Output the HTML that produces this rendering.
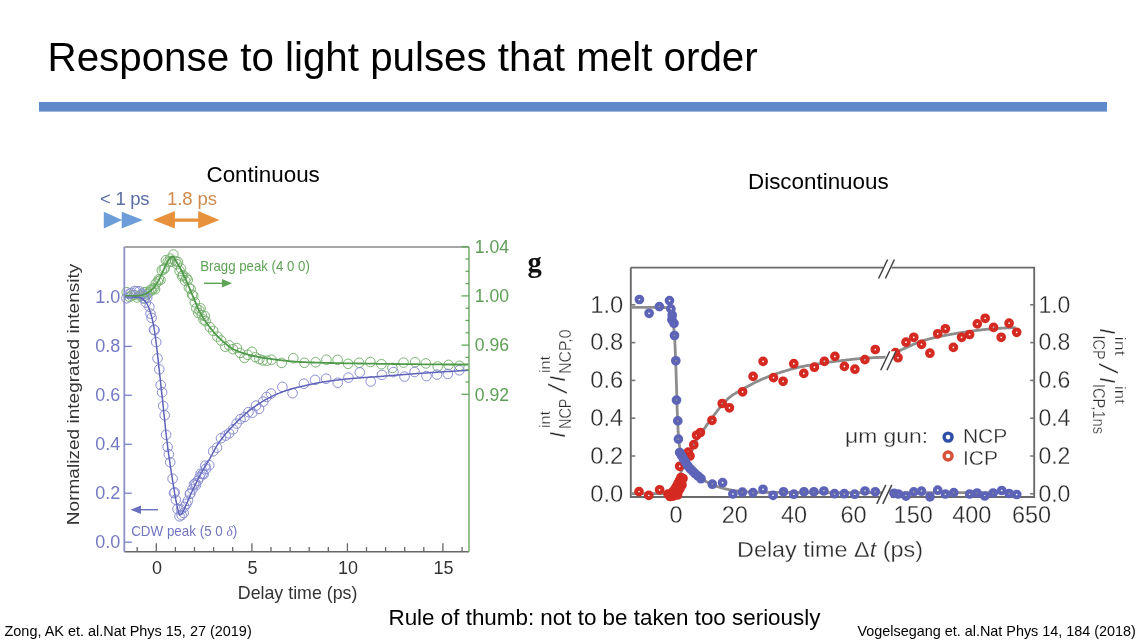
<!DOCTYPE html>
<html><head><meta charset="utf-8"><title>Response to light pulses that melt order</title>
<style>html,body{margin:0;padding:0;background:#fff;}body{width:1138px;height:640px;position:relative;overflow:hidden;}</style>
</head><body>
<svg width="1138" height="640" viewBox="0 0 1138 640" style="position:absolute;left:0;top:0">
<rect x="39" y="102" width="1068" height="9.6" fill="#5e8acb"/>
<text x="47.6" y="71.4" font-family="'Liberation Sans', Arial, sans-serif" font-size="40.3" fill="#000">Response to light pulses that melt order</text>
<text x="206.5" y="182.3" font-family="'Liberation Sans', Arial, sans-serif" font-size="22.4" fill="#000">Continuous</text>
<text x="748" y="189" font-family="'Liberation Sans', Arial, sans-serif" font-size="22.4" fill="#000">Discontinuous</text>
<text x="100" y="204.6" font-family="'Liberation Sans', Arial, sans-serif" font-size="18.5" fill="#5a6ea3" textLength="49.5" lengthAdjust="spacing">&lt; 1 ps</text>
<text x="167" y="204.6" font-family="'Liberation Sans', Arial, sans-serif" font-size="18.5" fill="#cf8a4c" textLength="50" lengthAdjust="spacing">1.8 ps</text>
<path d="M103.8 211.7 L122.2 220.1 L103.8 228.6 Z M121.7 211.7 L142.9 220.1 L121.7 228.6 Z" fill="#6d9dd8"/>
<path d="M153 220.1 L174.9 211 L174.9 218.5 L198.2 218.5 L198.2 211 L219.4 220.1 L198.2 228.6 L198.2 221.8 L174.9 221.8 L174.9 228.6 Z" fill="#e8913c"/>
<g fill="none" stroke="#7bb374" stroke-width="1">
<circle cx="126.7" cy="292.2" r="4.8"/>
<circle cx="129.4" cy="296.9" r="4.8"/>
<circle cx="131.4" cy="295.8" r="4.8"/>
<circle cx="134.1" cy="295" r="4.8"/>
<circle cx="137.1" cy="297.5" r="4.8"/>
<circle cx="139.6" cy="295.6" r="4.8"/>
<circle cx="141.2" cy="295.4" r="4.8"/>
<circle cx="143.7" cy="298.5" r="4.8"/>
<circle cx="144.3" cy="292.1" r="4.8"/>
<circle cx="146.2" cy="292.2" r="4.8"/>
<circle cx="147.2" cy="294.3" r="4.8"/>
<circle cx="149.1" cy="292.2" r="4.8"/>
<circle cx="150.7" cy="289.6" r="4.8"/>
<circle cx="151.7" cy="290.4" r="4.8"/>
<circle cx="153.6" cy="288.2" r="4.8"/>
<circle cx="155" cy="289.2" r="4.8"/>
<circle cx="155.8" cy="283.6" r="4.8"/>
<circle cx="157.8" cy="281.5" r="4.8"/>
<circle cx="158.9" cy="279.3" r="4.8"/>
<circle cx="160.5" cy="280" r="4.8"/>
<circle cx="161.8" cy="270.2" r="4.8"/>
<circle cx="163.7" cy="269.4" r="4.8"/>
<circle cx="164.8" cy="268" r="4.8"/>
<circle cx="165.9" cy="260.2" r="4.8"/>
<circle cx="167.8" cy="261.5" r="4.8"/>
<circle cx="169.5" cy="262" r="4.8"/>
<circle cx="170.4" cy="258.6" r="4.8"/>
<circle cx="171.7" cy="261.6" r="4.8"/>
<circle cx="173.4" cy="254.5" r="4.8"/>
<circle cx="175.4" cy="261.2" r="4.8"/>
<circle cx="176.9" cy="264.2" r="4.8"/>
<circle cx="178" cy="262" r="4.8"/>
<circle cx="179.7" cy="271" r="4.8"/>
<circle cx="181.1" cy="268.6" r="4.8"/>
<circle cx="182" cy="276.1" r="4.8"/>
<circle cx="183.1" cy="275.2" r="4.8"/>
<circle cx="185.1" cy="280.8" r="4.8"/>
<circle cx="186.5" cy="277.9" r="4.8"/>
<circle cx="187.7" cy="280" r="4.8"/>
<circle cx="188.9" cy="287.7" r="4.8"/>
<circle cx="190.6" cy="288.9" r="4.8"/>
<circle cx="192.1" cy="294.7" r="4.8"/>
<circle cx="193.3" cy="295.8" r="4.8"/>
<circle cx="194.8" cy="302.3" r="4.8"/>
<circle cx="196.4" cy="308.3" r="4.8"/>
<circle cx="198.3" cy="312.9" r="4.8"/>
<circle cx="199.4" cy="310.4" r="4.8"/>
<circle cx="200.5" cy="308.3" r="4.8"/>
<circle cx="201.9" cy="315.2" r="4.8"/>
<circle cx="203.5" cy="319.6" r="4.8"/>
<circle cx="204.7" cy="315.9" r="4.8"/>
<circle cx="205.6" cy="321.1" r="4.8"/>
<circle cx="209.8" cy="327.1" r="4.8"/>
<circle cx="213.2" cy="330.9" r="4.8"/>
<circle cx="217.4" cy="336.6" r="4.8"/>
<circle cx="221.1" cy="340.5" r="4.8"/>
<circle cx="225.3" cy="346.7" r="4.8"/>
<circle cx="229.2" cy="345.4" r="4.8"/>
<circle cx="233" cy="349.2" r="4.8"/>
<circle cx="236.8" cy="348.1" r="4.8"/>
<circle cx="240.2" cy="353" r="4.8"/>
<circle cx="244.4" cy="357.8" r="4.8"/>
<circle cx="247.8" cy="354.8" r="4.8"/>
<circle cx="251.9" cy="351.8" r="4.8"/>
<circle cx="255.5" cy="357.2" r="4.8"/>
<circle cx="259.4" cy="359.1" r="4.8"/>
<circle cx="262.8" cy="360.4" r="4.8"/>
<circle cx="266.8" cy="360.7" r="4.8"/>
<circle cx="271.5" cy="359.7" r="4.8"/>
<circle cx="281.7" cy="362.9" r="4.8"/>
<circle cx="293.3" cy="358.2" r="4.8"/>
<circle cx="304.4" cy="362.8" r="4.8"/>
<circle cx="315.6" cy="362.3" r="4.8"/>
<circle cx="326.4" cy="359.7" r="4.8"/>
<circle cx="337.6" cy="359.8" r="4.8"/>
<circle cx="348.1" cy="363.8" r="4.8"/>
<circle cx="359.1" cy="362.8" r="4.8"/>
<circle cx="370.4" cy="362" r="4.8"/>
<circle cx="381.4" cy="364.2" r="4.8"/>
<circle cx="392.4" cy="367.9" r="4.8"/>
<circle cx="403.5" cy="362.6" r="4.8"/>
<circle cx="415.1" cy="362.2" r="4.8"/>
<circle cx="425.8" cy="363.4" r="4.8"/>
<circle cx="437.7" cy="366.5" r="4.8"/>
<circle cx="448.5" cy="364.9" r="4.8"/>
<circle cx="459.4" cy="365.8" r="4.8"/>
</g>
<g fill="none" stroke="#8a8ed2" stroke-width="1">
<circle cx="126.4" cy="298.3" r="4.8"/>
<circle cx="129.6" cy="293.6" r="4.8"/>
<circle cx="131.3" cy="292.9" r="4.8"/>
<circle cx="134.6" cy="291" r="4.8"/>
<circle cx="136.6" cy="291.4" r="4.8"/>
<circle cx="139.2" cy="291.2" r="4.8"/>
<circle cx="141.9" cy="293.8" r="4.8"/>
<circle cx="144.1" cy="295.9" r="4.8"/>
<circle cx="144.6" cy="298.2" r="4.8"/>
<circle cx="145.9" cy="302.5" r="4.8"/>
<circle cx="147.2" cy="297.6" r="4.8"/>
<circle cx="149.4" cy="306.8" r="4.8"/>
<circle cx="150.5" cy="313.7" r="4.8"/>
<circle cx="151.6" cy="317.9" r="4.8"/>
<circle cx="153.9" cy="329.6" r="4.8"/>
<circle cx="154.6" cy="330.2" r="4.8"/>
<circle cx="156.2" cy="342.1" r="4.8"/>
<circle cx="157.5" cy="358.4" r="4.8"/>
<circle cx="159.3" cy="369.3" r="4.8"/>
<circle cx="160.7" cy="385" r="4.8"/>
<circle cx="162.1" cy="392.3" r="4.8"/>
<circle cx="163.2" cy="405.9" r="4.8"/>
<circle cx="164.7" cy="415.3" r="4.8"/>
<circle cx="166.1" cy="434.8" r="4.8"/>
<circle cx="167.6" cy="446.9" r="4.8"/>
<circle cx="168.8" cy="454.3" r="4.8"/>
<circle cx="170.2" cy="462.2" r="4.8"/>
<circle cx="172.6" cy="478.7" r="4.8"/>
<circle cx="174" cy="493.1" r="4.8"/>
<circle cx="174.6" cy="492.3" r="4.8"/>
<circle cx="175.8" cy="499.7" r="4.8"/>
<circle cx="177.5" cy="509.1" r="4.8"/>
<circle cx="179.5" cy="516.3" r="4.8"/>
<circle cx="181" cy="509.4" r="4.8"/>
<circle cx="181.6" cy="515.1" r="4.8"/>
<circle cx="183.6" cy="513" r="4.8"/>
<circle cx="184.4" cy="506.9" r="4.8"/>
<circle cx="186.4" cy="503.8" r="4.8"/>
<circle cx="188" cy="500.7" r="4.8"/>
<circle cx="189.8" cy="493.9" r="4.8"/>
<circle cx="190.4" cy="493.4" r="4.8"/>
<circle cx="192.5" cy="489.3" r="4.8"/>
<circle cx="194" cy="484.3" r="4.8"/>
<circle cx="195.5" cy="483.3" r="4.8"/>
<circle cx="195.9" cy="485.2" r="4.8"/>
<circle cx="197.8" cy="480.6" r="4.8"/>
<circle cx="199.8" cy="477.2" r="4.8"/>
<circle cx="200.6" cy="473.7" r="4.8"/>
<circle cx="202.5" cy="474" r="4.8"/>
<circle cx="203.7" cy="474.2" r="4.8"/>
<circle cx="205.3" cy="465.7" r="4.8"/>
<circle cx="206" cy="468.8" r="4.8"/>
<circle cx="209.3" cy="465.2" r="4.8"/>
<circle cx="213.2" cy="451.3" r="4.8"/>
<circle cx="217" cy="447.6" r="4.8"/>
<circle cx="221" cy="438.3" r="4.8"/>
<circle cx="225.6" cy="435.6" r="4.8"/>
<circle cx="229.1" cy="433.3" r="4.8"/>
<circle cx="233.1" cy="429.3" r="4.8"/>
<circle cx="236.6" cy="423.6" r="4.8"/>
<circle cx="240.5" cy="419.1" r="4.8"/>
<circle cx="244.6" cy="417" r="4.8"/>
<circle cx="248.5" cy="412.1" r="4.8"/>
<circle cx="252.3" cy="412.8" r="4.8"/>
<circle cx="256" cy="405.6" r="4.8"/>
<circle cx="259" cy="408.9" r="4.8"/>
<circle cx="263.2" cy="401.6" r="4.8"/>
<circle cx="266.6" cy="397" r="4.8"/>
<circle cx="271" cy="393.6" r="4.8"/>
<circle cx="282.4" cy="386.9" r="4.8"/>
<circle cx="292.6" cy="393.2" r="4.8"/>
<circle cx="303.9" cy="383.7" r="4.8"/>
<circle cx="315.1" cy="379.9" r="4.8"/>
<circle cx="326.1" cy="378.7" r="4.8"/>
<circle cx="337.8" cy="382.7" r="4.8"/>
<circle cx="348.4" cy="377.6" r="4.8"/>
<circle cx="359.8" cy="372.4" r="4.8"/>
<circle cx="370.7" cy="381.5" r="4.8"/>
<circle cx="381.9" cy="374.9" r="4.8"/>
<circle cx="393.4" cy="372.1" r="4.8"/>
<circle cx="404.5" cy="376.6" r="4.8"/>
<circle cx="414.6" cy="372" r="4.8"/>
<circle cx="426.5" cy="376.1" r="4.8"/>
<circle cx="437" cy="374.6" r="4.8"/>
<circle cx="447.8" cy="373.9" r="4.8"/>
<circle cx="459.3" cy="370.3" r="4.8"/>
</g>
<path d="M124.8 295.9 L125.3 295.9 L125.9 295.9 L126.5 295.9 L127.1 295.9 L127.6 295.9 L128.2 295.9 L128.8 295.9 L129.4 295.9 L129.9 295.9 L130.5 295.9 L131.1 295.9 L131.7 295.9 L132.2 295.9 L132.8 295.9 L133.4 295.9 L134 295.9 L134.5 295.9 L135.1 295.9 L135.7 295.8 L136.3 295.8 L136.8 295.8 L137.4 295.7 L138 295.7 L138.6 295.7 L139.1 295.6 L139.7 295.6 L140.3 295.5 L140.8 295.4 L141.4 295.3 L142 295.2 L142.6 295 L143.1 294.8 L143.7 294.6 L144.3 294.4 L144.9 294.1 L145.4 293.9 L146 293.6 L146.6 293.3 L147.2 293 L147.7 292.6 L148.3 292.3 L148.9 291.9 L149.5 291.6 L150 291.2 L150.6 290.8 L151.2 290.3 L151.8 289.8 L152.3 289.2 L152.9 288.6 L153.5 287.9 L154.1 287.2 L154.6 286.4 L155.2 285.6 L155.8 284.8 L156.4 284 L156.9 283.2 L157.5 282.3 L158.1 281.4 L158.6 280.3 L159.2 279.2 L159.8 278.1 L160.4 276.8 L160.9 275.6 L161.5 274.4 L162.1 273.2 L162.7 272 L163.2 270.8 L163.8 269.4 L164.4 268.1 L165 266.8 L165.5 265.5 L166.1 264.3 L166.7 263.2 L167.3 262.2 L167.8 261.3 L168.4 260.5 L169 259.6 L169.6 258.8 L170.1 258 L170.7 257.4 L171.3 256.8 L171.9 256.5 L172.4 256.3 L173 256.5 L173.6 257.1 L174.2 258 L174.7 259.1 L175.3 260.1 L175.9 260.9 L176.5 261.8 L177 262.8 L177.6 263.7 L178.2 264.7 L178.7 265.6 L179.3 266.7 L179.9 267.7 L180.5 268.7 L181 269.8 L181.6 270.9 L182.2 272 L182.8 273.1 L183.3 274.3 L183.9 275.5 L184.5 276.7 L185.1 277.9 L185.6 279.2 L186.2 280.5 L186.8 281.8 L187.4 283.2 L187.9 284.5 L188.5 285.9 L189.1 287.2 L189.7 288.6 L190.2 290 L190.8 291.3 L191.4 292.7 L192 294 L192.5 295.3 L193.1 296.6 L193.7 298 L194.3 299.4 L194.8 300.8 L195.4 302.2 L196 303.6 L196.6 304.9 L197.1 306.3 L197.7 307.6 L198.3 308.9 L198.8 310.1 L199.4 311.3 L200 312.4 L200.6 313.4 L201.1 314.4 L201.7 315.4 L202.3 316.4 L202.9 317.3 L203.4 318.3 L204 319.1 L204.6 320 L205.2 320.9 L205.7 321.7 L206.3 322.5 L206.9 323.4 L207.5 324.1 L208 324.9 L208.6 325.7 L209.2 326.5 L209.8 327.2 L210.3 327.9 L210.9 328.7 L211.5 329.4 L212.1 330.1 L212.6 330.8 L213.2 331.5 L213.8 332.2 L214.4 332.9 L214.9 333.5 L215.5 334.2 L216.1 334.8 L216.6 335.4 L217.2 336 L217.8 336.6 L218.4 337.2 L218.9 337.8 L219.5 338.3 L220.1 338.8 L220.7 339.4 L221.2 339.9 L221.8 340.4 L222.4 340.9 L223 341.4 L223.5 341.9 L224.1 342.4 L224.7 342.9 L225.3 343.4 L225.8 343.9 L226.4 344.4 L227 344.8 L227.6 345.3 L228.1 345.7 L228.7 346.2 L229.3 346.6 L229.9 347 L230.4 347.4 L231 347.8 L231.6 348.1 L232.2 348.5 L232.7 348.8 L233.3 349.2 L233.9 349.5 L234.5 349.7 L235 350 L235.6 350.3 L236.2 350.5 L236.7 350.8 L237.3 351 L237.9 351.2 L238.5 351.5 L239 351.7 L239.6 351.9 L240.2 352.1 L240.8 352.3 L241.3 352.5 L241.9 352.7 L242.5 352.9 L243.1 353.1 L243.6 353.3 L244.2 353.5 L244.8 353.7 L245.4 353.8 L245.9 354 L246.5 354.2 L247.1 354.3 L247.7 354.5 L248.2 354.7 L248.8 354.8 L249.4 355 L250 355.1 L250.5 355.3 L251.1 355.4 L251.7 355.5 L252.3 355.7 L252.8 355.8 L253.4 355.9 L254 356.1 L254.6 356.2 L255.1 356.3 L255.7 356.4 L256.3 356.5 L256.8 356.7 L257.4 356.8 L258 356.9 L258.6 357 L259.1 357.1 L259.7 357.2 L260.3 357.3 L260.9 357.4 L261.4 357.5 L262 357.6 L262.6 357.7 L263.2 357.8 L263.7 357.9 L264.3 358 L264.9 358.1 L265.5 358.2 L266 358.3 L266.6 358.3 L267.2 358.4 L267.8 358.5 L268.3 358.6 L268.9 358.7 L269.5 358.7 L270.1 358.8 L270.6 358.9 L271.2 359 L271.8 359.1 L272.4 359.1 L272.9 359.2 L273.5 359.3 L274.1 359.4 L274.6 359.4 L275.2 359.5 L275.8 359.6 L276.4 359.6 L276.9 359.7 L277.5 359.8 L278.1 359.9 L278.7 359.9 L279.2 360 L279.8 360.1 L280.4 360.1 L281 360.2 L281.5 360.3 L282.1 360.3 L282.7 360.4 L283.3 360.5 L283.8 360.5 L284.4 360.6 L285 360.7 L285.6 360.7 L286.1 360.8 L286.7 360.9 L287.3 360.9 L287.9 361 L288.4 361.1 L289 361.1 L289.6 361.2 L290.2 361.2 L290.7 361.3 L291.3 361.3 L291.9 361.4 L292.5 361.4 L293 361.5 L293.6 361.5 L294.2 361.6 L294.7 361.6 L295.3 361.7 L295.9 361.7 L296.5 361.8 L297 361.8 L297.6 361.8 L298.2 361.9 L298.8 361.9 L299.3 361.9 L299.9 362 L300.5 362 L301.1 362 L301.6 362 L302.2 362.1 L302.8 362.1 L303.4 362.1 L303.9 362.1 L304.5 362.2 L305.1 362.2 L305.7 362.2 L306.2 362.2 L306.8 362.3 L307.4 362.3 L308 362.3 L308.5 362.3 L309.1 362.3 L309.7 362.4 L310.3 362.4 L310.8 362.4 L311.4 362.4 L312 362.5 L312.6 362.5 L313.1 362.5 L313.7 362.5 L314.3 362.5 L314.8 362.6 L315.4 362.6 L316 362.6 L316.6 362.6 L317.1 362.6 L317.7 362.6 L318.3 362.7 L318.9 362.7 L319.4 362.7 L320 362.7 L320.6 362.7 L321.2 362.7 L321.7 362.8 L322.3 362.8 L322.9 362.8 L323.5 362.8 L324 362.8 L324.6 362.8 L325.2 362.9 L325.8 362.9 L326.3 362.9 L326.9 362.9 L327.5 362.9 L328.1 362.9 L328.6 362.9 L329.2 363 L329.8 363 L330.4 363 L330.9 363 L331.5 363 L332.1 363 L332.6 363 L333.2 363 L333.8 363.1 L334.4 363.1 L334.9 363.1 L335.5 363.1 L336.1 363.1 L336.7 363.1 L337.2 363.1 L337.8 363.1 L338.4 363.1 L339 363.2 L339.5 363.2 L340.1 363.2 L340.7 363.2 L341.3 363.2 L341.8 363.2 L342.4 363.2 L343 363.2 L343.6 363.2 L344.1 363.3 L344.7 363.3 L345.3 363.3 L345.9 363.3 L346.4 363.3 L347 363.3 L347.6 363.3 L348.2 363.3 L348.7 363.3 L349.3 363.3 L349.9 363.3 L350.5 363.4 L351 363.4 L351.6 363.4 L352.2 363.4 L352.7 363.4 L353.3 363.4 L353.9 363.4 L354.5 363.4 L355 363.4 L355.6 363.4 L356.2 363.4 L356.8 363.5 L357.3 363.5 L357.9 363.5 L358.5 363.5 L359.1 363.5 L359.6 363.5 L360.2 363.5 L360.8 363.5 L361.4 363.5 L361.9 363.5 L362.5 363.5 L363.1 363.5 L363.7 363.6 L364.2 363.6 L364.8 363.6 L365.4 363.6 L366 363.6 L366.5 363.6 L367.1 363.6 L367.7 363.6 L368.3 363.6 L368.8 363.6 L369.4 363.6 L370 363.7 L370.6 363.7 L371.1 363.7 L371.7 363.7 L372.3 363.7 L372.8 363.7 L373.4 363.7 L374 363.7 L374.6 363.7 L375.1 363.7 L375.7 363.7 L376.3 363.7 L376.9 363.8 L377.4 363.8 L378 363.8 L378.6 363.8 L379.2 363.8 L379.7 363.8 L380.3 363.8 L380.9 363.8 L381.5 363.8 L382 363.8 L382.6 363.8 L383.2 363.8 L383.8 363.8 L384.3 363.9 L384.9 363.9 L385.5 363.9 L386.1 363.9 L386.6 363.9 L387.2 363.9 L387.8 363.9 L388.4 363.9 L388.9 363.9 L389.5 363.9 L390.1 363.9 L390.6 363.9 L391.2 363.9 L391.8 364 L392.4 364 L392.9 364 L393.5 364 L394.1 364 L394.7 364 L395.2 364 L395.8 364 L396.4 364 L397 364 L397.5 364 L398.1 364 L398.7 364 L399.3 364 L399.8 364.1 L400.4 364.1 L401 364.1 L401.6 364.1 L402.1 364.1 L402.7 364.1 L403.3 364.1 L403.9 364.1 L404.4 364.1 L405 364.1 L405.6 364.1 L406.2 364.1 L406.7 364.1 L407.3 364.1 L407.9 364.1 L408.5 364.2 L409 364.2 L409.6 364.2 L410.2 364.2 L410.7 364.2 L411.3 364.2 L411.9 364.2 L412.5 364.2 L413 364.2 L413.6 364.2 L414.2 364.2 L414.8 364.2 L415.3 364.2 L415.9 364.2 L416.5 364.2 L417.1 364.2 L417.6 364.2 L418.2 364.3 L418.8 364.3 L419.4 364.3 L419.9 364.3 L420.5 364.3 L421.1 364.3 L421.7 364.3 L422.2 364.3 L422.8 364.3 L423.4 364.3 L424 364.3 L424.5 364.3 L425.1 364.3 L425.7 364.3 L426.3 364.3 L426.8 364.3 L427.4 364.3 L428 364.3 L428.6 364.3 L429.1 364.4 L429.7 364.4 L430.3 364.4 L430.8 364.4 L431.4 364.4 L432 364.4 L432.6 364.4 L433.1 364.4 L433.7 364.4 L434.3 364.4 L434.9 364.4 L435.4 364.4 L436 364.4 L436.6 364.4 L437.2 364.4 L437.7 364.4 L438.3 364.4 L438.9 364.4 L439.5 364.4 L440 364.4 L440.6 364.4 L441.2 364.4 L441.8 364.4 L442.3 364.4 L442.9 364.4 L443.5 364.5 L444.1 364.5 L444.6 364.5 L445.2 364.5 L445.8 364.5 L446.4 364.5 L446.9 364.5 L447.5 364.5 L448.1 364.5 L448.6 364.5 L449.2 364.5 L449.8 364.5 L450.4 364.5 L450.9 364.5 L451.5 364.5 L452.1 364.5 L452.7 364.5 L453.2 364.5 L453.8 364.5 L454.4 364.5 L455 364.5 L455.5 364.5 L456.1 364.5 L456.7 364.5 L457.3 364.5 L457.8 364.5 L458.4 364.5 L459 364.5 L459.6 364.5 L460.1 364.5 L460.7 364.5 L461.3 364.5 L461.9 364.5 L462.4 364.5 L463 364.5 L463.6 364.5 L464.2 364.5 L464.7 364.5 L465.3 364.5 L465.9 364.5 L466.5 364.5 L467 364.5 L467.6 364.5 L468.2 364.5 L468.7 364.5" fill="none" stroke="#4e9a4a" stroke-width="1.8"/>
<path d="M124.8 297.4 L125.3 297.4 L125.9 297.4 L126.5 297.4 L127.1 297.4 L127.6 297.4 L128.2 297.4 L128.8 297.4 L129.4 297.4 L129.9 297.4 L130.5 297.4 L131.1 297.4 L131.7 297.4 L132.2 297.4 L132.8 297.4 L133.4 297.4 L134 297.4 L134.5 297.4 L135.1 297.4 L135.7 297.4 L136.3 297.4 L136.8 297.4 L137.4 297.4 L138 297.4 L138.6 297.5 L139.1 297.5 L139.7 297.6 L140.3 297.7 L140.8 297.9 L141.4 298 L142 298.3 L142.6 298.6 L143.1 299.1 L143.7 299.7 L144.3 300.3 L144.9 301 L145.4 301.7 L146 302.5 L146.6 303.3 L147.2 304.2 L147.7 305.3 L148.3 306.5 L148.9 308 L149.5 309.6 L150 311.3 L150.6 313.1 L151.2 315 L151.8 317.1 L152.3 319.4 L152.9 322.1 L153.5 325 L154.1 328.1 L154.6 331.5 L155.2 335.4 L155.8 339.8 L156.4 344.5 L156.9 349.3 L157.5 354.2 L158.1 359.3 L158.6 364.6 L159.2 369.9 L159.8 375.2 L160.4 380.5 L160.9 385.6 L161.5 390.8 L162.1 396.1 L162.7 401.3 L163.2 406.8 L163.8 412.3 L164.4 417.9 L165 423.4 L165.5 428.8 L166.1 434 L166.7 439 L167.3 443.7 L167.8 448.1 L168.4 452.4 L169 456.5 L169.6 460.6 L170.1 464.5 L170.7 468.3 L171.3 472 L171.9 475.7 L172.4 479.3 L173 483 L173.6 486.6 L174.2 490.3 L174.7 493.7 L175.3 497 L175.9 500.1 L176.5 503 L177 505.9 L177.6 508.4 L178.2 510.5 L178.7 512.4 L179.3 514.1 L179.9 515 L180.5 514.9 L181 514.5 L181.6 513.9 L182.2 513.2 L182.8 512.3 L183.3 511.2 L183.9 509.8 L184.5 508.5 L185.1 507.2 L185.6 506 L186.2 504.7 L186.8 503.3 L187.4 502 L187.9 500.6 L188.5 499.3 L189.1 497.9 L189.7 496.6 L190.2 495.2 L190.8 493.9 L191.4 492.7 L192 491.4 L192.5 490.2 L193.1 489 L193.7 487.8 L194.3 486.6 L194.8 485.5 L195.4 484.3 L196 483.2 L196.6 482 L197.1 480.9 L197.7 479.8 L198.3 478.7 L198.8 477.6 L199.4 476.5 L200 475.4 L200.6 474.4 L201.1 473.3 L201.7 472.3 L202.3 471.2 L202.9 470.2 L203.4 469.2 L204 468.2 L204.6 467.2 L205.2 466.2 L205.7 465.3 L206.3 464.4 L206.9 463.4 L207.5 462.5 L208 461.5 L208.6 460.6 L209.2 459.6 L209.8 458.6 L210.3 457.6 L210.9 456.6 L211.5 455.6 L212.1 454.5 L212.6 453.4 L213.2 452.3 L213.8 451.2 L214.4 450.2 L214.9 449.1 L215.5 448.1 L216.1 447 L216.6 446.1 L217.2 445.1 L217.8 444.2 L218.4 443.4 L218.9 442.5 L219.5 441.7 L220.1 440.9 L220.7 440.2 L221.2 439.4 L221.8 438.7 L222.4 438 L223 437.2 L223.5 436.5 L224.1 435.8 L224.7 435.1 L225.3 434.4 L225.8 433.7 L226.4 433.1 L227 432.4 L227.6 431.7 L228.1 431.1 L228.7 430.4 L229.3 429.8 L229.9 429.1 L230.4 428.5 L231 427.9 L231.6 427.3 L232.2 426.7 L232.7 426 L233.3 425.4 L233.9 424.8 L234.5 424.3 L235 423.7 L235.6 423.1 L236.2 422.5 L236.7 421.9 L237.3 421.4 L237.9 420.8 L238.5 420.2 L239 419.7 L239.6 419.1 L240.2 418.6 L240.8 418 L241.3 417.5 L241.9 417 L242.5 416.5 L243.1 415.9 L243.6 415.4 L244.2 414.9 L244.8 414.4 L245.4 413.9 L245.9 413.4 L246.5 412.9 L247.1 412.4 L247.7 412 L248.2 411.5 L248.8 411 L249.4 410.6 L250 410.1 L250.5 409.7 L251.1 409.2 L251.7 408.8 L252.3 408.4 L252.8 407.9 L253.4 407.5 L254 407.1 L254.6 406.7 L255.1 406.3 L255.7 405.9 L256.3 405.5 L256.8 405.1 L257.4 404.7 L258 404.3 L258.6 403.9 L259.1 403.5 L259.7 403.2 L260.3 402.8 L260.9 402.4 L261.4 402.1 L262 401.7 L262.6 401.4 L263.2 401 L263.7 400.7 L264.3 400.4 L264.9 400 L265.5 399.7 L266 399.4 L266.6 399.1 L267.2 398.8 L267.8 398.5 L268.3 398.2 L268.9 397.9 L269.5 397.6 L270.1 397.3 L270.6 397 L271.2 396.7 L271.8 396.4 L272.4 396.1 L272.9 395.9 L273.5 395.6 L274.1 395.3 L274.6 395.1 L275.2 394.8 L275.8 394.6 L276.4 394.3 L276.9 394.1 L277.5 393.8 L278.1 393.6 L278.7 393.4 L279.2 393.1 L279.8 392.9 L280.4 392.7 L281 392.5 L281.5 392.2 L282.1 392 L282.7 391.8 L283.3 391.6 L283.8 391.4 L284.4 391.2 L285 391 L285.6 390.8 L286.1 390.6 L286.7 390.4 L287.3 390.2 L287.9 390 L288.4 389.9 L289 389.7 L289.6 389.5 L290.2 389.3 L290.7 389.2 L291.3 389 L291.9 388.8 L292.5 388.7 L293 388.5 L293.6 388.3 L294.2 388.2 L294.7 388 L295.3 387.9 L295.9 387.8 L296.5 387.6 L297 387.5 L297.6 387.3 L298.2 387.2 L298.8 387.1 L299.3 386.9 L299.9 386.8 L300.5 386.7 L301.1 386.5 L301.6 386.4 L302.2 386.3 L302.8 386.1 L303.4 386 L303.9 385.9 L304.5 385.8 L305.1 385.6 L305.7 385.5 L306.2 385.4 L306.8 385.2 L307.4 385.1 L308 385 L308.5 384.9 L309.1 384.7 L309.7 384.6 L310.3 384.5 L310.8 384.3 L311.4 384.2 L312 384.1 L312.6 384 L313.1 383.8 L313.7 383.7 L314.3 383.6 L314.8 383.5 L315.4 383.3 L316 383.2 L316.6 383.1 L317.1 383 L317.7 382.9 L318.3 382.8 L318.9 382.7 L319.4 382.6 L320 382.5 L320.6 382.4 L321.2 382.3 L321.7 382.2 L322.3 382.1 L322.9 382 L323.5 382 L324 381.9 L324.6 381.8 L325.2 381.7 L325.8 381.6 L326.3 381.5 L326.9 381.4 L327.5 381.3 L328.1 381.3 L328.6 381.2 L329.2 381.1 L329.8 381 L330.4 380.9 L330.9 380.9 L331.5 380.8 L332.1 380.7 L332.6 380.6 L333.2 380.5 L333.8 380.5 L334.4 380.4 L334.9 380.3 L335.5 380.2 L336.1 380.2 L336.7 380.1 L337.2 380 L337.8 380 L338.4 379.9 L339 379.8 L339.5 379.8 L340.1 379.7 L340.7 379.6 L341.3 379.6 L341.8 379.5 L342.4 379.4 L343 379.4 L343.6 379.3 L344.1 379.2 L344.7 379.2 L345.3 379.1 L345.9 379.1 L346.4 379 L347 379 L347.6 378.9 L348.2 378.8 L348.7 378.8 L349.3 378.7 L349.9 378.7 L350.5 378.6 L351 378.6 L351.6 378.5 L352.2 378.5 L352.7 378.4 L353.3 378.4 L353.9 378.3 L354.5 378.3 L355 378.2 L355.6 378.2 L356.2 378.2 L356.8 378.1 L357.3 378.1 L357.9 378 L358.5 378 L359.1 377.9 L359.6 377.9 L360.2 377.9 L360.8 377.8 L361.4 377.8 L361.9 377.7 L362.5 377.7 L363.1 377.7 L363.7 377.6 L364.2 377.6 L364.8 377.5 L365.4 377.5 L366 377.5 L366.5 377.4 L367.1 377.4 L367.7 377.3 L368.3 377.3 L368.8 377.3 L369.4 377.2 L370 377.2 L370.6 377.1 L371.1 377.1 L371.7 377.1 L372.3 377 L372.8 377 L373.4 376.9 L374 376.9 L374.6 376.9 L375.1 376.8 L375.7 376.8 L376.3 376.7 L376.9 376.7 L377.4 376.7 L378 376.6 L378.6 376.6 L379.2 376.5 L379.7 376.5 L380.3 376.4 L380.9 376.4 L381.5 376.3 L382 376.3 L382.6 376.3 L383.2 376.2 L383.8 376.2 L384.3 376.1 L384.9 376.1 L385.5 376 L386.1 376 L386.6 375.9 L387.2 375.9 L387.8 375.8 L388.4 375.8 L388.9 375.8 L389.5 375.7 L390.1 375.7 L390.6 375.6 L391.2 375.6 L391.8 375.5 L392.4 375.5 L392.9 375.4 L393.5 375.4 L394.1 375.3 L394.7 375.3 L395.2 375.2 L395.8 375.2 L396.4 375.2 L397 375.1 L397.5 375.1 L398.1 375 L398.7 375 L399.3 374.9 L399.8 374.9 L400.4 374.8 L401 374.8 L401.6 374.7 L402.1 374.7 L402.7 374.7 L403.3 374.6 L403.9 374.6 L404.4 374.5 L405 374.5 L405.6 374.4 L406.2 374.4 L406.7 374.3 L407.3 374.3 L407.9 374.2 L408.5 374.2 L409 374.2 L409.6 374.1 L410.2 374.1 L410.7 374 L411.3 374 L411.9 373.9 L412.5 373.9 L413 373.9 L413.6 373.8 L414.2 373.8 L414.8 373.7 L415.3 373.7 L415.9 373.7 L416.5 373.6 L417.1 373.6 L417.6 373.5 L418.2 373.5 L418.8 373.5 L419.4 373.4 L419.9 373.4 L420.5 373.3 L421.1 373.3 L421.7 373.3 L422.2 373.2 L422.8 373.2 L423.4 373.1 L424 373.1 L424.5 373.1 L425.1 373 L425.7 373 L426.3 372.9 L426.8 372.9 L427.4 372.9 L428 372.8 L428.6 372.8 L429.1 372.7 L429.7 372.7 L430.3 372.7 L430.8 372.6 L431.4 372.6 L432 372.6 L432.6 372.5 L433.1 372.5 L433.7 372.4 L434.3 372.4 L434.9 372.4 L435.4 372.3 L436 372.3 L436.6 372.2 L437.2 372.2 L437.7 372.2 L438.3 372.1 L438.9 372.1 L439.5 372.1 L440 372 L440.6 372 L441.2 371.9 L441.8 371.9 L442.3 371.9 L442.9 371.8 L443.5 371.8 L444.1 371.8 L444.6 371.7 L445.2 371.7 L445.8 371.6 L446.4 371.6 L446.9 371.6 L447.5 371.5 L448.1 371.5 L448.6 371.5 L449.2 371.4 L449.8 371.4 L450.4 371.4 L450.9 371.3 L451.5 371.3 L452.1 371.2 L452.7 371.2 L453.2 371.2 L453.8 371.1 L454.4 371.1 L455 371.1 L455.5 371 L456.1 371 L456.7 371 L457.3 370.9 L457.8 370.9 L458.4 370.9 L459 370.8 L459.6 370.8 L460.1 370.8 L460.7 370.7 L461.3 370.7 L461.9 370.7 L462.4 370.6 L463 370.6 L463.6 370.6 L464.2 370.5 L464.7 370.5 L465.3 370.5 L465.9 370.4 L466.5 370.4 L467 370.4 L467.6 370.3 L468.2 370.3 L468.7 370.3" fill="none" stroke="#5e62b8" stroke-width="1.5"/>
<line x1="124.3" y1="247.0" x2="469.0" y2="247.0" stroke="#8a8a8a" stroke-width="1.3"/>
<line x1="124.3" y1="551.8" x2="469.0" y2="551.8" stroke="#666" stroke-width="1.5"/>
<line x1="124.3" y1="247.0" x2="124.3" y2="551.8" stroke="#8d90c8" stroke-width="1.8"/>
<line x1="469.0" y1="247.0" x2="469.0" y2="551.8" stroke="#7fae7a" stroke-width="1.6"/>
<line x1="137.2" y1="551.8" x2="137.2" y2="547.1" stroke="#666" stroke-width="1.3"/>
<line x1="156.3" y1="551.8" x2="156.3" y2="543.3" stroke="#666" stroke-width="1.3"/>
<line x1="175.4" y1="551.8" x2="175.4" y2="547.1" stroke="#666" stroke-width="1.3"/>
<line x1="194.5" y1="551.8" x2="194.5" y2="547.1" stroke="#666" stroke-width="1.3"/>
<line x1="213.6" y1="551.8" x2="213.6" y2="547.1" stroke="#666" stroke-width="1.3"/>
<line x1="232.7" y1="551.8" x2="232.7" y2="547.1" stroke="#666" stroke-width="1.3"/>
<line x1="251.9" y1="551.8" x2="251.9" y2="543.3" stroke="#666" stroke-width="1.3"/>
<line x1="271" y1="551.8" x2="271" y2="547.1" stroke="#666" stroke-width="1.3"/>
<line x1="290.1" y1="551.8" x2="290.1" y2="547.1" stroke="#666" stroke-width="1.3"/>
<line x1="309.2" y1="551.8" x2="309.2" y2="547.1" stroke="#666" stroke-width="1.3"/>
<line x1="328.3" y1="551.8" x2="328.3" y2="547.1" stroke="#666" stroke-width="1.3"/>
<line x1="347.4" y1="551.8" x2="347.4" y2="543.3" stroke="#666" stroke-width="1.3"/>
<line x1="366.5" y1="551.8" x2="366.5" y2="547.1" stroke="#666" stroke-width="1.3"/>
<line x1="385.6" y1="551.8" x2="385.6" y2="547.1" stroke="#666" stroke-width="1.3"/>
<line x1="404.7" y1="551.8" x2="404.7" y2="547.1" stroke="#666" stroke-width="1.3"/>
<line x1="423.8" y1="551.8" x2="423.8" y2="547.1" stroke="#666" stroke-width="1.3"/>
<line x1="442.9" y1="551.8" x2="442.9" y2="543.3" stroke="#666" stroke-width="1.3"/>
<line x1="462.1" y1="551.8" x2="462.1" y2="547.1" stroke="#666" stroke-width="1.3"/>
<line x1="124.3" y1="542.2" x2="131.8" y2="542.2" stroke="#7a7fc8" stroke-width="1.3"/>
<line x1="124.3" y1="493.2" x2="131.8" y2="493.2" stroke="#7a7fc8" stroke-width="1.3"/>
<line x1="124.3" y1="444.3" x2="131.8" y2="444.3" stroke="#7a7fc8" stroke-width="1.3"/>
<line x1="124.3" y1="395.3" x2="131.8" y2="395.3" stroke="#7a7fc8" stroke-width="1.3"/>
<line x1="124.3" y1="346.4" x2="131.8" y2="346.4" stroke="#7a7fc8" stroke-width="1.3"/>
<line x1="124.3" y1="297.4" x2="131.8" y2="297.4" stroke="#7a7fc8" stroke-width="1.3"/>
<line x1="469.0" y1="394.3" x2="461.5" y2="394.3" stroke="#66a65e" stroke-width="1.3"/>
<line x1="469.0" y1="382" x2="465.5" y2="382" stroke="#66a65e" stroke-width="1.3"/>
<line x1="469.0" y1="369.7" x2="465.5" y2="369.7" stroke="#66a65e" stroke-width="1.3"/>
<line x1="469.0" y1="357.4" x2="465.5" y2="357.4" stroke="#66a65e" stroke-width="1.3"/>
<line x1="469.0" y1="345.1" x2="461.5" y2="345.1" stroke="#66a65e" stroke-width="1.3"/>
<line x1="469.0" y1="332.8" x2="465.5" y2="332.8" stroke="#66a65e" stroke-width="1.3"/>
<line x1="469.0" y1="320.5" x2="465.5" y2="320.5" stroke="#66a65e" stroke-width="1.3"/>
<line x1="469.0" y1="308.2" x2="465.5" y2="308.2" stroke="#66a65e" stroke-width="1.3"/>
<line x1="469.0" y1="295.9" x2="461.5" y2="295.9" stroke="#66a65e" stroke-width="1.3"/>
<line x1="469.0" y1="283.6" x2="465.5" y2="283.6" stroke="#66a65e" stroke-width="1.3"/>
<line x1="469.0" y1="271.3" x2="465.5" y2="271.3" stroke="#66a65e" stroke-width="1.3"/>
<line x1="469.0" y1="259" x2="465.5" y2="259" stroke="#66a65e" stroke-width="1.3"/>
<line x1="469.0" y1="246.7" x2="461.5" y2="246.7" stroke="#66a65e" stroke-width="1.3"/>
<g font-family="'Liberation Sans', Arial, sans-serif" font-size="18" fill="#7479c4" text-anchor="end">
<text x="120.2" y="547.6">0.0</text>
<text x="120.2" y="498.6">0.2</text>
<text x="120.2" y="449.7">0.4</text>
<text x="120.2" y="400.7">0.6</text>
<text x="120.2" y="351.8">0.8</text>
<text x="120.2" y="302.8">1.0</text>
</g>
<g font-family="'Liberation Sans', Arial, sans-serif" font-size="17.6" fill="#5e9f56">
<text x="474.8" y="253">1.04</text>
<text x="474.8" y="302.2">1.00</text>
<text x="474.8" y="351.4">0.96</text>
<text x="474.8" y="400.6">0.92</text>
</g>
<g font-family="'Liberation Sans', Arial, sans-serif" font-size="18" fill="#333" text-anchor="middle">
<text x="157" y="574.3">0</text>
<text x="252.6" y="574.3">5</text>
<text x="348.1" y="574.3">10</text>
<text x="443.6" y="574.3">15</text>
</g>
<text x="237.8" y="599" font-family="'Liberation Sans', Arial, sans-serif" font-size="17.8" fill="#333">Delay time (ps)</text>
<text transform="translate(78.8,525.2) rotate(-90)" font-family="'Liberation Sans', Arial, sans-serif" font-size="16.8" fill="#333" textLength="261.5" lengthAdjust="spacingAndGlyphs">Normalized integrated intensity</text>
<text x="200.3" y="270.6" font-family="'Liberation Sans', Arial, sans-serif" font-size="14.6" fill="#5ea256" textLength="109.5" lengthAdjust="spacingAndGlyphs">Bragg peak (4 0 0)</text>
<line x1="204" y1="283.3" x2="224" y2="283.3" stroke="#5ea256" stroke-width="1.4"/>
<path d="M222 279 L232 283.3 L222 287.6 Z" fill="#5ea256"/>
<text x="131.2" y="536.2" font-family="'Liberation Sans', Arial, sans-serif" font-size="14.6" fill="#7075c0" textLength="106" lengthAdjust="spacingAndGlyphs">CDW peak (5 0 <tspan font-family="Liberation Serif" font-style="italic">&#948;</tspan>)</text>
<line x1="139" y1="509.7" x2="158" y2="509.7" stroke="#6a6fbe" stroke-width="1.4"/>
<path d="M141 505.4 L130.5 509.7 L141 514 Z" fill="#6a6fbe"/>
<g stroke="#6a6a6a" stroke-width="1.9" fill="none">
<path d="M883.0 267.6 L630.8 267.6 M630.8 267.6 L630.8 497.0 L879.5 497.0"/>
<path d="M891.5 267.6 L1034.2 267.6 L1034.2 497.0 L891.0 497.0"/>
</g>
<g stroke="#777" stroke-width="1.6">
<line x1="630.8" y1="493.8" x2="635.3" y2="493.8"/>
<line x1="1034.2" y1="493.8" x2="1030.2" y2="493.8"/>
<line x1="630.8" y1="456" x2="635.3" y2="456"/>
<line x1="1034.2" y1="456" x2="1030.2" y2="456"/>
<line x1="630.8" y1="418.2" x2="635.3" y2="418.2"/>
<line x1="1034.2" y1="418.2" x2="1030.2" y2="418.2"/>
<line x1="630.8" y1="380.4" x2="635.3" y2="380.4"/>
<line x1="1034.2" y1="380.4" x2="1030.2" y2="380.4"/>
<line x1="630.8" y1="342.6" x2="635.3" y2="342.6"/>
<line x1="1034.2" y1="342.6" x2="1030.2" y2="342.6"/>
<line x1="630.8" y1="304.8" x2="635.3" y2="304.8"/>
<line x1="1034.2" y1="304.8" x2="1030.2" y2="304.8"/>
</g>
<g fill="none" stroke="#8d8d8d" stroke-width="2.8" stroke-linejoin="round">
<path d="M631 307.3 L632.3 307.3 L633.7 307.3 L635 307.3 L636.4 307.3 L637.7 307.3 L639 307.3 L640.4 307.3 L641.7 307.3 L643.1 307.3 L644.4 307.3 L645.7 307.3 L647.1 307.3 L648.4 307.3 L649.8 307.3 L651.1 307.3 L652.4 307.3 L653.8 307.3 L655.1 307.3 L656.4 307.3 L657.8 307.3 L659.1 307.3 L660.5 307.3 L661.8 307.3 L663.2 307.4 L664.5 307.5 L665.8 307.6 L667.1 307.9 L668.4 308.5 L669.3 309.3 L670 310.4 L670.7 311.6 L671.2 313 L671.6 314.3 L671.9 315.5 L672.2 316.8 L672.5 318.1 L672.7 319.5 L673 320.8 L673.1 322.2 L673.3 323.5 L673.5 324.8 L673.6 326.2 L673.8 327.5 L673.9 328.8 L674 330.1 L674.1 331.5 L674.2 332.8 L674.3 334.2 L674.4 335.5 L674.5 336.8 L674.6 338.2 L674.7 339.5 L674.8 340.8 L674.9 342.2 L674.9 343.5 L675 344.9 L675.1 346.2 L675.1 347.5 L675.2 348.9 L675.2 350.2 L675.3 351.5 L675.4 352.9 L675.4 354.2 L675.5 355.6 L675.5 356.9 L675.6 358.2 L675.6 359.6 L675.7 360.9 L675.7 362.3 L675.8 363.6 L675.8 364.9 L675.8 366.3 L675.9 367.6 L675.9 368.9 L676 370.3 L676 371.6 L676.1 373 L676.1 374.3 L676.2 375.6 L676.2 377 L676.2 378.3 L676.3 379.7 L676.3 381 L676.4 382.3 L676.4 383.7 L676.5 385 L676.5 386.3 L676.5 387.7 L676.6 389 L676.6 390.4 L676.7 391.7 L676.7 393 L676.7 394.4 L676.8 395.7 L676.8 397.1 L676.9 398.4 L676.9 399.7 L676.9 401.1 L677 402.4 L677 403.8 L677.1 405.1 L677.1 406.4 L677.1 407.8 L677.2 409.1 L677.2 410.4 L677.3 411.8 L677.3 413.1 L677.4 414.5 L677.4 415.8 L677.5 417.1 L677.5 418.5 L677.6 419.8 L677.7 421.2 L677.7 422.5 L677.8 423.8 L677.8 425.2 L677.9 426.5 L678 427.8 L678 429.2 L678.1 430.5 L678.2 431.9 L678.3 433.2 L678.4 434.5 L678.5 435.9 L678.6 437.2 L678.7 438.5 L678.8 439.9 L678.9 441.2 L679.1 442.5 L679.2 443.9 L679.4 445.2 L679.6 446.6 L679.8 447.9 L680.1 449.2 L680.4 450.5 L680.7 451.7 L681.1 453 L681.6 454.3 L682.2 455.5 L682.8 456.7 L683.4 457.9 L684 459.1 L684.7 460.2 L685.4 461.4 L686.2 462.5 L686.9 463.6 L687.7 464.7 L688.6 465.7 L689.4 466.8 L690.3 467.8 L691.1 468.8 L692 469.8 L692.9 470.9 L693.8 471.8 L694.8 472.8 L695.7 473.8 L696.7 474.7 L697.7 475.6 L698.7 476.5 L699.7 477.3 L700.8 478.1 L701.9 478.8 L703 479.6 L704.1 480.3 L705.3 481 L706.4 481.7 L707.6 482.4 L708.8 483 L710 483.6 L711.2 484.2 L712.4 484.7 L713.7 485.2 L714.9 485.7 L716.2 486.2 L717.4 486.6 L718.7 487 L720 487.5 L721.3 487.8 L722.6 488.2 L723.9 488.5 L725.2 488.8 L726.5 489.1 L727.8 489.4 L729.1 489.7 L730.4 489.9 L731.7 490.2 L733.1 490.4 L734.4 490.6 L735.7 490.8 L737.1 491 L738.4 491.2 L739.7 491.3 L741.1 491.4 L742.4 491.5 L743.7 491.6 L745.1 491.7 L746.4 491.8 L747.7 491.9 L749.1 491.9 L750.4 492 L751.7 492.1 L753.1 492.1 L754.4 492.2 L755.8 492.2 L757.1 492.3 L758.4 492.3 L759.8 492.3 L761.1 492.3 L762.5 492.3 L763.8 492.3 L765.1 492.3 L766.5 492.3 L767.8 492.3 L769.2 492.4 L770.5 492.4 L771.8 492.4 L773.2 492.4 L774.5 492.4 L775.8 492.4 L777.2 492.4 L778.5 492.4 L779.9 492.4 L781.2 492.4 L782.5 492.4 L783.9 492.4 L785.2 492.4 L786.6 492.4 L787.9 492.4 L789.2 492.4 L790.6 492.4 L791.9 492.5 L793.2 492.5 L794.6 492.5 L795.9 492.5 L797.3 492.5 L798.6 492.5 L799.9 492.5 L801.3 492.5 L802.6 492.5 L804 492.5 L805.3 492.5 L806.6 492.5 L808 492.5 L809.3 492.5 L810.7 492.5 L812 492.5 L813.3 492.5 L814.7 492.5 L816 492.5 L817.3 492.5 L818.7 492.5 L820 492.5 L821.4 492.5 L822.7 492.5 L824 492.5 L825.4 492.5 L826.7 492.6 L828.1 492.6 L829.4 492.6 L830.7 492.6 L832.1 492.6 L833.4 492.6 L834.8 492.6 L836.1 492.6 L837.4 492.6 L838.8 492.6 L840.1 492.6 L841.5 492.6 L842.8 492.6 L844.1 492.6 L845.5 492.6 L846.8 492.6 L848.2 492.6 L849.5 492.6 L850.8 492.6 L852.2 492.6 L853.5 492.6 L854.9 492.6 L856.2 492.6 L857.5 492.6 L858.9 492.6 L860.2 492.6 L861.6 492.6 L862.9 492.6 L864.2 492.6 L865.6 492.6 L866.9 492.6 L868.3 492.6 L869.6 492.6 L870.9 492.6 L872.3 492.6 L873.6 492.6 L875 492.6 L876.3 492.6 L877.6 492.6 L879 492.6 L880.3 492.6 L881.7 492.6 L883 492.6"/>
<path d="M891.5 492.6 L891.9 492.6 L892.3 492.6 L892.7 492.6 L893.2 492.6 L893.6 492.6 L894 492.6 L894.4 492.6 L894.8 492.6 L895.2 492.6 L895.7 492.6 L896.1 492.6 L896.5 492.6 L896.9 492.6 L897.3 492.6 L897.7 492.6 L898.2 492.6 L898.6 492.6 L899 492.6 L899.4 492.6 L899.8 492.6 L900.2 492.6 L900.7 492.6 L901.1 492.6 L901.5 492.6 L901.9 492.6 L902.3 492.6 L902.7 492.6 L903.2 492.6 L903.6 492.6 L904 492.6 L904.4 492.6 L904.8 492.6 L905.2 492.6 L905.7 492.6 L906.1 492.6 L906.5 492.6 L906.9 492.6 L907.3 492.6 L907.7 492.6 L908.2 492.6 L908.6 492.6 L909 492.6 L909.4 492.6 L909.8 492.6 L910.2 492.6 L910.7 492.6 L911.1 492.6 L911.5 492.6 L911.9 492.6 L912.3 492.6 L912.7 492.6 L913.2 492.6 L913.6 492.6 L914 492.6 L914.4 492.6 L914.8 492.6 L915.2 492.6 L915.7 492.6 L916.1 492.6 L916.5 492.6 L916.9 492.6 L917.3 492.6 L917.7 492.6 L918.1 492.6 L918.6 492.6 L919 492.6 L919.4 492.6 L919.8 492.6 L920.2 492.6 L920.6 492.6 L921.1 492.6 L921.5 492.6 L921.9 492.6 L922.3 492.6 L922.7 492.6 L923.1 492.6 L923.6 492.6 L924 492.6 L924.4 492.6 L924.8 492.6 L925.2 492.6 L925.6 492.6 L926.1 492.6 L926.5 492.6 L926.9 492.6 L927.3 492.6 L927.7 492.6 L928.1 492.6 L928.6 492.6 L929 492.6 L929.4 492.6 L929.8 492.6 L930.2 492.6 L930.6 492.6 L931.1 492.6 L931.5 492.6 L931.9 492.6 L932.3 492.6 L932.7 492.6 L933.1 492.6 L933.6 492.6 L934 492.6 L934.4 492.6 L934.8 492.6 L935.2 492.6 L935.6 492.6 L936.1 492.6 L936.5 492.6 L936.9 492.6 L937.3 492.6 L937.7 492.6 L938.1 492.6 L938.6 492.6 L939 492.6 L939.4 492.6 L939.8 492.6 L940.2 492.6 L940.6 492.6 L941.1 492.6 L941.5 492.6 L941.9 492.6 L942.3 492.6 L942.7 492.6 L943.1 492.6 L943.5 492.6 L944 492.6 L944.4 492.6 L944.8 492.6 L945.2 492.6 L945.6 492.6 L946 492.6 L946.5 492.6 L946.9 492.6 L947.3 492.6 L947.7 492.6 L948.1 492.6 L948.5 492.6 L949 492.6 L949.4 492.6 L949.8 492.6 L950.2 492.6 L950.6 492.6 L951 492.6 L951.5 492.6 L951.9 492.6 L952.3 492.6 L952.7 492.6 L953.1 492.6 L953.5 492.6 L954 492.6 L954.4 492.6 L954.8 492.6 L955.2 492.6 L955.6 492.6 L956 492.6 L956.5 492.6 L956.9 492.6 L957.3 492.6 L957.7 492.6 L958.1 492.6 L958.5 492.6 L959 492.6 L959.4 492.6 L959.8 492.6 L960.2 492.6 L960.6 492.6 L961 492.6 L961.5 492.6 L961.9 492.6 L962.3 492.6 L962.7 492.6 L963.1 492.6 L963.5 492.6 L964 492.6 L964.4 492.6 L964.8 492.6 L965.2 492.6 L965.6 492.6 L966 492.6 L966.4 492.6 L966.9 492.6 L967.3 492.6 L967.7 492.6 L968.1 492.6 L968.5 492.6 L968.9 492.6 L969.4 492.6 L969.8 492.6 L970.2 492.6 L970.6 492.6 L971 492.6 L971.4 492.6 L971.9 492.6 L972.3 492.6 L972.7 492.6 L973.1 492.6 L973.5 492.6 L973.9 492.6 L974.4 492.6 L974.8 492.6 L975.2 492.6 L975.6 492.6 L976 492.6 L976.4 492.6 L976.9 492.6 L977.3 492.6 L977.7 492.6 L978.1 492.6 L978.5 492.6 L978.9 492.6 L979.4 492.6 L979.8 492.6 L980.2 492.6 L980.6 492.6 L981 492.6 L981.4 492.6 L981.9 492.6 L982.3 492.6 L982.7 492.6 L983.1 492.6 L983.5 492.6 L983.9 492.6 L984.4 492.6 L984.8 492.6 L985.2 492.6 L985.6 492.6 L986 492.6 L986.4 492.6 L986.9 492.6 L987.3 492.6 L987.7 492.6 L988.1 492.6 L988.5 492.6 L988.9 492.6 L989.4 492.6 L989.8 492.6 L990.2 492.6 L990.6 492.6 L991 492.6 L991.4 492.6 L991.8 492.6 L992.3 492.6 L992.7 492.6 L993.1 492.6 L993.5 492.6 L993.9 492.6 L994.3 492.6 L994.8 492.6 L995.2 492.6 L995.6 492.6 L996 492.6 L996.4 492.6 L996.8 492.6 L997.3 492.6 L997.7 492.6 L998.1 492.6 L998.5 492.6 L998.9 492.6 L999.3 492.6 L999.8 492.6 L1000.2 492.6 L1000.6 492.6 L1001 492.6 L1001.4 492.6 L1001.8 492.6 L1002.3 492.6 L1002.7 492.6 L1003.1 492.6 L1003.5 492.6 L1003.9 492.6 L1004.3 492.6 L1004.8 492.6 L1005.2 492.6 L1005.6 492.6 L1006 492.6 L1006.4 492.6 L1006.8 492.6 L1007.3 492.6 L1007.7 492.6 L1008.1 492.6 L1008.5 492.6 L1008.9 492.6 L1009.3 492.6 L1009.8 492.6 L1010.2 492.6 L1010.6 492.6 L1011 492.6 L1011.4 492.6 L1011.8 492.6 L1012.3 492.6 L1012.7 492.6 L1013.1 492.6 L1013.5 492.6 L1013.9 492.6 L1014.3 492.6 L1014.8 492.6 L1015.2 492.6 L1015.6 492.6 L1016 492.6"/>
<path d="M631 493.6 L632.1 493.6 L633.2 493.6 L634.2 493.6 L635.3 493.6 L636.4 493.6 L637.5 493.6 L638.5 493.6 L639.6 493.6 L640.7 493.6 L641.7 493.6 L642.8 493.6 L643.9 493.6 L644.9 493.6 L646 493.6 L647 493.6 L648.1 493.6 L649.1 493.6 L650.2 493.6 L651.3 493.6 L652.3 493.6 L653.4 493.6 L654.4 493.6 L655.5 493.6 L656.5 493.6 L657.6 493.6 L658.6 493.6 L659.7 493.6 L660.7 493.6 L661.8 493.6 L662.8 493.6 L663.8 493.6 L664.9 493.6 L665.9 493.6 L667 493.5 L668.1 493.4 L669.1 493.1 L670.2 492.8 L671.1 492.5 L672 492 L672.9 491.4 L673.8 490.7 L674.6 489.9 L675.3 489 L675.9 488.2 L676.3 487.4 L676.8 486.5 L677.1 485.6 L677.5 484.6 L677.8 483.6 L678.1 482.6 L678.4 481.6 L678.6 480.5 L678.9 479.4 L679.2 478.3 L679.4 477.3 L679.7 476.2 L680 475.1 L680.3 474.1 L680.6 473.1 L681 472.1 L681.4 471.1 L681.8 470.2 L682.2 469.2 L682.7 468.3 L683.2 467.3 L683.7 466.4 L684.2 465.5 L684.7 464.5 L685.2 463.6 L685.8 462.7 L686.3 461.8 L686.8 460.8 L687.4 459.9 L687.9 459 L688.4 458.1 L688.9 457.1 L689.4 456.2 L689.9 455.2 L690.3 454.3 L690.8 453.3 L691.2 452.4 L691.6 451.4 L692 450.4 L692.4 449.4 L692.8 448.4 L693.3 447.5 L693.7 446.5 L694.1 445.5 L694.5 444.5 L695 443.6 L695.4 442.6 L695.9 441.7 L696.4 440.8 L696.9 439.9 L697.4 438.9 L698 438 L698.5 437.1 L699.1 436.2 L699.7 435.4 L700.3 434.5 L700.9 433.6 L701.5 432.7 L702.1 431.8 L702.7 431 L703.3 430.1 L703.9 429.2 L704.5 428.3 L705.1 427.5 L705.7 426.6 L706.3 425.7 L706.9 424.9 L707.5 424 L708.2 423.2 L708.8 422.3 L709.4 421.5 L710 420.6 L710.7 419.8 L711.3 418.9 L711.9 418.1 L712.6 417.2 L713.2 416.4 L713.8 415.5 L714.5 414.7 L715.1 413.8 L715.7 412.9 L716.4 412.1 L717 411.2 L717.6 410.4 L718.3 409.6 L718.9 408.7 L719.6 407.9 L720.2 407.1 L720.9 406.3 L721.6 405.5 L722.3 404.7 L723 403.9 L723.7 403.1 L724.4 402.3 L725.2 401.5 L725.9 400.7 L726.7 400 L727.4 399.3 L728.2 398.5 L729 397.8 L729.8 397.2 L730.6 396.5 L731.4 395.9 L732.3 395.3 L733.2 394.7 L734.1 394.1 L735 393.6 L735.9 393 L736.8 392.5 L737.7 391.9 L738.6 391.4 L739.6 390.9 L740.5 390.4 L741.4 389.8 L742.3 389.3 L743.3 388.8 L744.2 388.3 L745.1 387.7 L746 387.2 L746.9 386.7 L747.9 386.2 L748.8 385.7 L749.7 385.2 L750.7 384.7 L751.6 384.2 L752.6 383.7 L753.5 383.2 L754.4 382.8 L755.4 382.3 L756.4 381.8 L757.3 381.4 L758.3 380.9 L759.2 380.5 L760.2 380.1 L761.2 379.6 L762.1 379.2 L763.1 378.8 L764.1 378.4 L765.1 378 L766 377.6 L767 377.2 L768 376.8 L769 376.4 L770 376 L771 375.6 L772 375.3 L773 374.9 L774 374.6 L775 374.2 L776 373.9 L777 373.5 L778 373.2 L779 372.9 L780 372.5 L781 372.2 L782 371.9 L783 371.6 L784 371.3 L785 371 L786.1 370.7 L787.1 370.4 L788.1 370.1 L789.1 369.8 L790.1 369.5 L791.1 369.2 L792.2 368.9 L793.2 368.7 L794.2 368.4 L795.2 368.1 L796.3 367.9 L797.3 367.6 L798.3 367.4 L799.4 367.1 L800.4 366.9 L801.4 366.7 L802.5 366.5 L803.5 366.3 L804.5 366.1 L805.6 365.9 L806.6 365.7 L807.7 365.5 L808.7 365.3 L809.8 365.2 L810.8 365 L811.8 364.8 L812.9 364.6 L813.9 364.5 L815 364.3 L816 364.1 L817.1 364 L818.1 363.8 L819.2 363.6 L820.2 363.5 L821.3 363.3 L822.3 363.1 L823.3 363 L824.4 362.8 L825.4 362.6 L826.5 362.5 L827.5 362.3 L828.6 362.2 L829.6 362.1 L830.7 361.9 L831.7 361.8 L832.8 361.6 L833.8 361.5 L834.9 361.4 L835.9 361.2 L837 361.1 L838 361 L839.1 360.9 L840.1 360.8 L841.2 360.6 L842.2 360.5 L843.3 360.4 L844.3 360.3 L845.4 360.2 L846.4 360 L847.5 359.9 L848.5 359.8 L849.6 359.7 L850.7 359.5 L851.7 359.4 L852.8 359.3 L853.8 359.2 L854.9 359.1 L855.9 359 L857 358.9 L858 358.8 L859.1 358.7 L860.1 358.6 L861.2 358.5 L862.2 358.4 L863.3 358.4 L864.4 358.3 L865.4 358.2 L866.5 358.1 L867.5 358.1 L868.6 358 L869.6 357.9 L870.7 357.9 L871.7 357.8 L872.8 357.7 L873.9 357.7 L874.9 357.6 L876 357.6 L877 357.5 L878.1 357.5 L879.1 357.4 L880.2 357.4 L881.3 357.3 L882.3 357.3 L883.4 357.3 L884.4 357.2 L885.5 357.2"/>
<path d="M892.5 353.8 L892.9 353.6 L893.3 353.5 L893.7 353.3 L894.1 353.1 L894.4 352.9 L894.8 352.8 L895.2 352.6 L895.6 352.4 L896 352.2 L896.4 352.1 L896.8 351.9 L897.2 351.7 L897.5 351.6 L897.9 351.4 L898.3 351.2 L898.7 351 L899.1 350.9 L899.5 350.7 L899.9 350.5 L900.3 350.3 L900.6 350.2 L901 350 L901.4 349.8 L901.8 349.6 L902.2 349.5 L902.6 349.3 L903 349.1 L903.4 348.9 L903.7 348.7 L904.1 348.6 L904.5 348.4 L904.9 348.2 L905.3 348 L905.7 347.9 L906.1 347.7 L906.4 347.5 L906.8 347.3 L907.2 347.1 L907.6 347 L908 346.8 L908.4 346.6 L908.8 346.4 L909.1 346.3 L909.5 346.1 L909.9 345.9 L910.3 345.7 L910.7 345.6 L911.1 345.4 L911.5 345.2 L911.9 345.1 L912.3 344.9 L912.6 344.7 L913 344.6 L913.4 344.4 L913.8 344.2 L914.2 344.1 L914.6 343.9 L915 343.7 L915.4 343.5 L915.8 343.4 L916.2 343.2 L916.6 343.1 L917 342.9 L917.3 342.7 L917.7 342.6 L918.1 342.4 L918.5 342.3 L918.9 342.1 L919.3 341.9 L919.7 341.8 L920.1 341.6 L920.5 341.5 L920.9 341.4 L921.3 341.2 L921.7 341.1 L922.1 341 L922.5 340.8 L922.9 340.7 L923.3 340.6 L923.7 340.5 L924.1 340.3 L924.6 340.2 L925 340.1 L925.4 340 L925.8 339.9 L926.2 339.7 L926.6 339.6 L927 339.5 L927.4 339.4 L927.8 339.3 L928.2 339.2 L928.6 339.1 L929.1 339 L929.5 338.9 L929.9 338.8 L930.3 338.7 L930.7 338.6 L931.1 338.4 L931.5 338.3 L932 338.2 L932.4 338.1 L932.8 338 L933.2 338 L933.6 337.9 L934 337.8 L934.4 337.7 L934.9 337.6 L935.3 337.5 L935.7 337.4 L936.1 337.3 L936.5 337.2 L936.9 337.1 L937.3 337 L937.8 336.9 L938.2 336.8 L938.6 336.7 L939 336.6 L939.4 336.6 L939.8 336.5 L940.2 336.4 L940.7 336.3 L941.1 336.2 L941.5 336.1 L941.9 336 L942.3 336 L942.7 335.9 L943.2 335.8 L943.6 335.7 L944 335.6 L944.4 335.5 L944.8 335.5 L945.2 335.4 L945.7 335.3 L946.1 335.2 L946.5 335.1 L946.9 335.1 L947.3 335 L947.8 334.9 L948.2 334.8 L948.6 334.8 L949 334.7 L949.4 334.6 L949.8 334.5 L950.3 334.5 L950.7 334.4 L951.1 334.3 L951.5 334.2 L951.9 334.2 L952.4 334.1 L952.8 334 L953.2 333.9 L953.6 333.9 L954 333.8 L954.4 333.7 L954.9 333.7 L955.3 333.6 L955.7 333.5 L956.1 333.4 L956.5 333.4 L957 333.3 L957.4 333.2 L957.8 333.2 L958.2 333.1 L958.6 333 L959.1 333 L959.5 332.9 L959.9 332.8 L960.3 332.8 L960.7 332.7 L961.2 332.6 L961.6 332.6 L962 332.5 L962.4 332.4 L962.8 332.4 L963.3 332.3 L963.7 332.2 L964.1 332.2 L964.5 332.1 L964.9 332.1 L965.4 332 L965.8 331.9 L966.2 331.9 L966.6 331.8 L967 331.7 L967.5 331.7 L967.9 331.6 L968.3 331.6 L968.7 331.5 L969.1 331.4 L969.6 331.4 L970 331.3 L970.4 331.3 L970.8 331.2 L971.2 331.1 L971.7 331.1 L972.1 331 L972.5 331 L972.9 330.9 L973.4 330.8 L973.8 330.8 L974.2 330.7 L974.6 330.7 L975 330.6 L975.5 330.6 L975.9 330.5 L976.3 330.5 L976.7 330.4 L977.1 330.4 L977.6 330.3 L978 330.3 L978.4 330.2 L978.8 330.2 L979.3 330.1 L979.7 330.1 L980.1 330 L980.5 330 L980.9 329.9 L981.4 329.9 L981.8 329.8 L982.2 329.8 L982.6 329.7 L983.1 329.7 L983.5 329.6 L983.9 329.6 L984.3 329.6 L984.7 329.5 L985.2 329.5 L985.6 329.4 L986 329.4 L986.4 329.3 L986.9 329.3 L987.3 329.2 L987.7 329.2 L988.1 329.2 L988.6 329.1 L989 329.1 L989.4 329 L989.8 329 L990.2 329 L990.7 328.9 L991.1 328.9 L991.5 328.9 L991.9 328.8 L992.4 328.8 L992.8 328.8 L993.2 328.7 L993.6 328.7 L994.1 328.7 L994.5 328.6 L994.9 328.6 L995.3 328.6 L995.8 328.6 L996.2 328.5 L996.6 328.5 L997 328.5 L997.4 328.4 L997.9 328.4 L998.3 328.4 L998.7 328.4 L999.1 328.3 L999.6 328.3 L1000 328.3 L1000.4 328.3 L1000.8 328.2 L1001.3 328.2 L1001.7 328.2 L1002.1 328.2 L1002.5 328.1 L1003 328.1 L1003.4 328.1 L1003.8 328.1 L1004.2 328 L1004.7 328 L1005.1 328 L1005.5 328 L1005.9 328 L1006.4 327.9 L1006.8 327.9 L1007.2 327.9 L1007.6 327.9 L1008.1 327.9 L1008.5 327.8 L1008.9 327.8 L1009.3 327.8 L1009.8 327.8 L1010.2 327.8 L1010.6 327.8 L1011 327.7 L1011.4 327.7 L1011.9 327.7 L1012.3 327.7 L1012.7 327.7 L1013.1 327.7 L1013.6 327.7 L1014 327.6 L1014.4 327.6 L1014.8 327.6 L1015.3 327.6 L1015.7 327.6"/>
</g>
<g fill="none" stroke="#d42a22" stroke-width="4">
<circle cx="639" cy="491.6" r="2.85"/>
<circle cx="648.8" cy="495.4" r="2.85"/>
<circle cx="659.6" cy="489.8" r="2.85"/>
<circle cx="669.5" cy="494.5" r="2.85"/>
<circle cx="671" cy="496" r="2.85"/>
<circle cx="672.5" cy="492" r="2.85"/>
<circle cx="674" cy="495.5" r="2.85"/>
<circle cx="675" cy="489" r="2.85"/>
<circle cx="676.5" cy="486.5" r="2.85"/>
<circle cx="678" cy="483.5" r="2.85"/>
<circle cx="679.5" cy="480.5" r="2.85"/>
<circle cx="681" cy="477.5" r="2.85"/>
<circle cx="677.5" cy="495" r="2.85"/>
<circle cx="668" cy="494" r="2.85"/>
<circle cx="670" cy="496.5" r="2.85"/>
<circle cx="673" cy="496" r="2.85"/>
<circle cx="676" cy="494" r="2.85"/>
<circle cx="678.5" cy="491" r="2.85"/>
<circle cx="680" cy="488.5" r="2.85"/>
<circle cx="682" cy="485" r="2.85"/>
<circle cx="683" cy="478.5" r="2.85"/>
<circle cx="679.7" cy="466.3" r="2.85"/>
<circle cx="688.2" cy="452.2" r="2.85"/>
<circle cx="690" cy="456" r="2.85"/>
<circle cx="693.8" cy="444.7" r="2.85"/>
<circle cx="696.6" cy="435.3" r="2.85"/>
<circle cx="700.4" cy="432.5" r="2.85"/>
<circle cx="712" cy="420.3" r="2.85"/>
<circle cx="722.2" cy="403.5" r="2.85"/>
<circle cx="729.4" cy="407.8" r="2.85"/>
<circle cx="742.6" cy="391.8" r="2.85"/>
<circle cx="753.1" cy="376.4" r="2.85"/>
<circle cx="763.1" cy="361.4" r="2.85"/>
<circle cx="773.5" cy="377.6" r="2.85"/>
<circle cx="783.1" cy="381.3" r="2.85"/>
<circle cx="793.8" cy="363.7" r="2.85"/>
<circle cx="803.8" cy="373.4" r="2.85"/>
<circle cx="814.4" cy="367.2" r="2.85"/>
<circle cx="824.4" cy="361.4" r="2.85"/>
<circle cx="834.9" cy="356.4" r="2.85"/>
<circle cx="844.4" cy="366.4" r="2.85"/>
<circle cx="854.9" cy="369.2" r="2.85"/>
<circle cx="864.9" cy="359.6" r="2.85"/>
<circle cx="875.3" cy="349.5" r="2.85"/>
<circle cx="895.5" cy="352.7" r="2.85"/>
<circle cx="898" cy="357.7" r="2.85"/>
<circle cx="906" cy="342.2" r="2.85"/>
<circle cx="913.8" cy="337.3" r="2.85"/>
<circle cx="921.5" cy="344.3" r="2.85"/>
<circle cx="929.9" cy="353.2" r="2.85"/>
<circle cx="937.7" cy="333.8" r="2.85"/>
<circle cx="945.4" cy="328.8" r="2.85"/>
<circle cx="953.4" cy="347.4" r="2.85"/>
<circle cx="961.6" cy="337.3" r="2.85"/>
<circle cx="969.6" cy="334.5" r="2.85"/>
<circle cx="977.3" cy="323.9" r="2.85"/>
<circle cx="985.2" cy="318.3" r="2.85"/>
<circle cx="993.6" cy="327.4" r="2.85"/>
<circle cx="1001.2" cy="337.3" r="2.85"/>
<circle cx="1009.1" cy="323.2" r="2.85"/>
<circle cx="1016.7" cy="332.3" r="2.85"/>
</g>
<g fill="none" stroke="#5d64b8" stroke-width="4">
<circle cx="639.4" cy="299.5" r="2.85"/>
<circle cx="649.1" cy="313.3" r="2.85"/>
<circle cx="659.4" cy="306.6" r="2.85"/>
<circle cx="669.5" cy="300.6" r="2.85"/>
<circle cx="670.9" cy="308.9" r="2.85"/>
<circle cx="672.2" cy="315.2" r="2.85"/>
<circle cx="671.9" cy="319.8" r="2.85"/>
<circle cx="674" cy="323.4" r="2.85"/>
<circle cx="674.5" cy="335.5" r="2.85"/>
<circle cx="675.8" cy="360.8" r="2.85"/>
<circle cx="676.5" cy="400.1" r="2.85"/>
<circle cx="677.8" cy="420.9" r="2.85"/>
<circle cx="678.4" cy="439.1" r="2.85"/>
<circle cx="679.7" cy="452.5" r="2.85"/>
<circle cx="681.5" cy="455.5" r="2.85"/>
<circle cx="683.5" cy="459" r="2.85"/>
<circle cx="685.5" cy="462" r="2.85"/>
<circle cx="687.5" cy="465.5" r="2.85"/>
<circle cx="690" cy="468.5" r="2.85"/>
<circle cx="692.5" cy="471" r="2.85"/>
<circle cx="695" cy="473.5" r="2.85"/>
<circle cx="698" cy="476" r="2.85"/>
<circle cx="701" cy="478.7" r="2.85"/>
<circle cx="712.3" cy="484.2" r="2.85"/>
<circle cx="722.6" cy="482.7" r="2.85"/>
<circle cx="732.9" cy="494" r="2.85"/>
<circle cx="742.4" cy="492.2" r="2.85"/>
<circle cx="753" cy="492.6" r="2.85"/>
<circle cx="763" cy="489.3" r="2.85"/>
<circle cx="773.1" cy="495.3" r="2.85"/>
<circle cx="783.5" cy="491.8" r="2.85"/>
<circle cx="793.8" cy="494.2" r="2.85"/>
<circle cx="804" cy="491.8" r="2.85"/>
<circle cx="813.9" cy="491.8" r="2.85"/>
<circle cx="823.9" cy="491" r="2.85"/>
<circle cx="834.5" cy="493.7" r="2.85"/>
<circle cx="844.3" cy="493.7" r="2.85"/>
<circle cx="854.7" cy="494.2" r="2.85"/>
<circle cx="865" cy="491" r="2.85"/>
<circle cx="875.3" cy="491.8" r="2.85"/>
<circle cx="894" cy="493.3" r="2.85"/>
<circle cx="898.3" cy="494" r="2.85"/>
<circle cx="906" cy="496.1" r="2.85"/>
<circle cx="913.8" cy="491.9" r="2.85"/>
<circle cx="921.5" cy="491.2" r="2.85"/>
<circle cx="930" cy="496.8" r="2.85"/>
<circle cx="937.7" cy="490.2" r="2.85"/>
<circle cx="945.4" cy="494" r="2.85"/>
<circle cx="953.8" cy="492.6" r="2.85"/>
<circle cx="969.6" cy="494" r="2.85"/>
<circle cx="977" cy="493" r="2.85"/>
<circle cx="984.8" cy="496" r="2.85"/>
<circle cx="993.2" cy="493" r="2.85"/>
<circle cx="1001.7" cy="490.5" r="2.85"/>
<circle cx="1009.1" cy="493.5" r="2.85"/>
<circle cx="1016.7" cy="494.5" r="2.85"/>
</g>
<path d="M878.6 278.5 L887.6 259.5 L894.4 259.5 L885.4 278.5 Z" fill="#fff"/>
<path d="M880.7 370.2 L889.7 351.2 L895.9 351.2 L886.9 370.2 Z" fill="#fff"/>
<path d="M876.8 503.9 L885.8 484.9 L891.8 484.9 L882.8 503.9 Z" fill="#fff"/>
<g stroke="#444" stroke-width="1.5" fill="none">
<line x1="878.6" y1="278.5" x2="887.6" y2="259.5"/>
<line x1="885.4" y1="278.5" x2="894.4" y2="259.5"/>
<line x1="880.7" y1="370.2" x2="889.7" y2="351.2"/>
<line x1="886.9" y1="370.2" x2="895.9" y2="351.2"/>
<line x1="876.8" y1="503.9" x2="885.8" y2="484.9"/>
<line x1="882.8" y1="503.9" x2="891.8" y2="484.9"/>
</g>
<g font-family="'Liberation Sans', Arial, sans-serif" font-size="23.5" fill="#2b2b2b" stroke="#fff" stroke-width="0.3" text-anchor="end">
<text x="623.3" y="501.6" textLength="33" lengthAdjust="spacingAndGlyphs">0.0</text>
<text x="623.3" y="463.8" textLength="33" lengthAdjust="spacingAndGlyphs">0.2</text>
<text x="623.3" y="426" textLength="33" lengthAdjust="spacingAndGlyphs">0.4</text>
<text x="623.3" y="388.2" textLength="33" lengthAdjust="spacingAndGlyphs">0.6</text>
<text x="623.3" y="350.4" textLength="33" lengthAdjust="spacingAndGlyphs">0.8</text>
<text x="623.3" y="312.6" textLength="33" lengthAdjust="spacingAndGlyphs">1.0</text>
</g>
<g font-family="'Liberation Sans', Arial, sans-serif" font-size="23.5" fill="#2b2b2b" stroke="#fff" stroke-width="0.3">
<text x="1038.4" y="501.6" textLength="32" lengthAdjust="spacingAndGlyphs">0.0</text>
<text x="1038.4" y="463.8" textLength="32" lengthAdjust="spacingAndGlyphs">0.2</text>
<text x="1038.4" y="426" textLength="32" lengthAdjust="spacingAndGlyphs">0.4</text>
<text x="1038.4" y="388.2" textLength="32" lengthAdjust="spacingAndGlyphs">0.6</text>
<text x="1038.4" y="350.4" textLength="32" lengthAdjust="spacingAndGlyphs">0.8</text>
<text x="1038.4" y="312.6" textLength="32" lengthAdjust="spacingAndGlyphs">1.0</text>
</g>
<g font-family="'Liberation Sans', Arial, sans-serif" font-size="23.5" fill="#2b2b2b" stroke="#fff" stroke-width="0.3" text-anchor="middle">
<text x="676" y="523">0</text>
<text x="734.8" y="523">20</text>
<text x="794" y="523">40</text>
<text x="853.6" y="523">60</text>
<text x="913.2" y="523">150</text>
<text x="971.8" y="523">400</text>
<text x="1031.5" y="523">650</text>
</g>
<text x="737" y="556.6" font-family="'Liberation Sans', Arial, sans-serif" font-size="22" fill="#2b2b2b" stroke="#fff" stroke-width="0.3" textLength="186" lengthAdjust="spacingAndGlyphs">Delay time <tspan>&#916;</tspan><tspan font-style="italic">t</tspan> (ps)</text>
<text x="845" y="442.7" font-family="'Liberation Sans', Arial, sans-serif" font-size="21" fill="#2b2b2b" stroke="#fff" stroke-width="0.3" textLength="83" lengthAdjust="spacingAndGlyphs">&#956;m gun:</text>
<circle cx="948.1" cy="437.1" r="4" fill="none" stroke="#2f4fa6" stroke-width="3.4"/>
<circle cx="948.1" cy="456" r="4" fill="none" stroke="#d8523a" stroke-width="3.4"/>
<text x="962.9" y="442.7" font-family="'Liberation Sans', Arial, sans-serif" font-size="21" fill="#2b2b2b" stroke="#fff" stroke-width="0.3">NCP</text>
<text x="962.9" y="464.5" font-family="'Liberation Sans', Arial, sans-serif" font-size="21" fill="#2b2b2b" stroke="#fff" stroke-width="0.3">ICP</text>
<text x="527.6" y="272.3" font-family="'Liberation Serif', serif" font-weight="bold" font-size="28.5" fill="#111">g</text>
<g transform="translate(565,437) rotate(-90)" font-family="'Liberation Sans', Arial, sans-serif" fill="#2b2b2b" stroke="#fff" stroke-width="0.3">
<text x="-1" y="0" font-size="22.5" font-style="italic">I</text>
<text x="9" y="-15.2" font-size="15.5" textLength="17" lengthAdjust="spacingAndGlyphs">int</text>
<text x="8" y="6.4" font-size="16.3" textLength="30.5" lengthAdjust="spacingAndGlyphs">NCP</text>
<text x="44.5" y="1.5" font-size="25.5" font-style="italic">/</text>
<text x="55" y="0" font-size="22.5" font-style="italic">I</text>
<text x="63.9" y="-15.2" font-size="15.5" textLength="17" lengthAdjust="spacingAndGlyphs">int</text>
<text x="63.2" y="6.4" font-size="16.3" textLength="44.3" lengthAdjust="spacingAndGlyphs">NCP,0</text>
</g>
<g transform="translate(1100.4,329) rotate(90)" font-family="'Liberation Sans', Arial, sans-serif" fill="#2b2b2b" stroke="#fff" stroke-width="0.3">
<text x="-1" y="0" font-size="22.5" font-style="italic">I</text>
<text x="7.8" y="-14.7" font-size="15.5" textLength="18.8" lengthAdjust="spacingAndGlyphs">int</text>
<text x="6.6" y="7.1" font-size="16.3" textLength="24" lengthAdjust="spacingAndGlyphs">ICP</text>
<text x="35.5" y="1.5" font-size="25.5" font-style="italic">/</text>
<text x="48" y="0" font-size="22.5" font-style="italic">I</text>
<text x="57.1" y="-14.7" font-size="15.5" textLength="17.8" lengthAdjust="spacingAndGlyphs">int</text>
<text x="55" y="7.1" font-size="16.3" textLength="50" lengthAdjust="spacingAndGlyphs">ICP,1ns</text>
</g>
<text x="388.5" y="625.3" font-family="'Liberation Sans', Arial, sans-serif" font-size="22.4" fill="#000">Rule of thumb: not to be taken too seriously</text>
<text x="4.5" y="636" font-family="'Liberation Sans', Arial, sans-serif" font-size="14.45" fill="#000">Zong, AK et. al.Nat Phys 15, 27 (2019)</text>
<text x="857.5" y="635.9" font-family="'Liberation Sans', Arial, sans-serif" font-size="14.4" fill="#000">Vogelsegang et. al.Nat Phys 14, 184 (2018)</text>
</svg>
</body></html>
